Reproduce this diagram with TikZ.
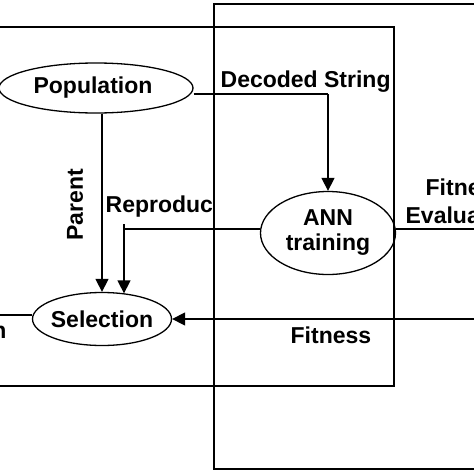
\documentclass[tikz,border=0pt]{standalone}
\usepackage{fontspec}
\setmainfont{Liberation Sans}
\usetikzlibrary{shapes.geometric,arrows.meta}
\begin{document}
\begin{tikzpicture}[x=1pt,y=-1pt,
  font=\fontsize{23}{25}\selectfont\bfseries,
  line width=1.3pt,
  ell/.style={draw,ellipse,inner sep=0pt,line width=1.3pt},
  arr/.style={-{Triangle[length=13pt,width=13pt]}},
  txt/.style={inner sep=0pt}]
\useasboundingbox (0,0) rectangle (474,474);
\clip (0,0) rectangle (474,474);
% frames
\draw (-10,27) -- (394,27) -- (394,386) -- (-10,386);
\draw (484,4) -- (214,4) -- (214,469) -- (484,469);
% nodes
\node[ell,minimum width=194pt,minimum height=50pt,
      label={[xshift=-3pt]center:Population}] (pop) at (96,88) {};
\node[ell,minimum width=135pt,minimum height=83pt,
      label={[align=center]center:ANN\\training}] (ann) at (328,233) {};
\node[ell,minimum width=139pt,minimum height=53pt,
      label={center:Selection}] (sel) at (102,319) {};
% coordinates for free ends
\coordinate (dc) at (328,94);
\coordinate (rc) at (124,229);
\coordinate (rs) at (124,224);
\coordinate (re) at (474,229);
\coordinate (fe) at (474,319);
\coordinate (le) at (0,315);
% connectors
\draw (dc -| pop.east) -- (dc);
\draw[arr] (dc) -- (ann.north);
\draw[arr] (sel.north |- pop.south) -- (sel.north);
\draw (rc -| ann.west) -- (rc);
\draw[arr] (rs) -- (rs |- sel.48.8);
\draw (rc -| ann.east) -- (re);
\draw[arr] (fe) -- (fe -| sel.east);
\draw (le) -- (le -| sel.west);
% labels
\node[txt,anchor=base west] (ds) at (220,87) {Decoded String};
\node[txt,rotate=90] (par) at (75,205) {Parent};
\node[txt,anchor=base west] (rep) at (105,212) {Reproduc};
\node[txt,anchor=base west] (fit1) at (425,195) {Fitne};
\node[txt,anchor=base west] (fit2) at (405,223) {Evalua};
\node[txt,anchor=base west] (fit) at (290,343) {Fitness};
\node[txt,anchor=base east] (nn) at (7,338) {n};
\end{tikzpicture}
\end{document}
